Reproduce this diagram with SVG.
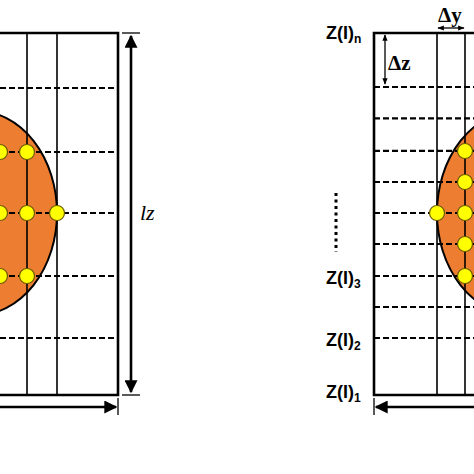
<svg xmlns="http://www.w3.org/2000/svg" width="474" height="474" viewBox="0 0 474 474">
<defs>
<style>
.ell{fill:#ED7D31;stroke:#000;stroke-width:2}
.frame{fill:none;stroke:#000;stroke-width:2.6}
.vl{stroke:#000;stroke-width:1.6}
.dl{stroke:#000;stroke-width:2.2;stroke-dasharray:6 3}
.dot{fill:#FFFF00;stroke:#6B5A00;stroke-width:1.2}
.thick{stroke:#000;stroke-width:2.6;fill:none}
.thin{stroke:#000;stroke-width:1.3;fill:none}
.lab{font-family:"Liberation Sans",Arial,sans-serif;font-weight:bold;font-size:18px;fill:#000}
.sub{font-size:12px}
.gr{font-family:"Liberation Serif","Times New Roman",serif;font-size:21px;font-weight:bold;fill:#000}
.lz{font-family:"Liberation Serif","Times New Roman",serif;font-size:22px;font-style:italic;fill:#000}
</style>
<marker id="ah" viewBox="0 0 10 10" refX="9" refY="5" markerWidth="5" markerHeight="5" orient="auto-start-reverse" markerUnits="strokeWidth">
<path d="M0,0 L10,5 L0,10 z" fill="#000"/>
</marker>
<marker id="sh" viewBox="0 0 10 10" refX="9" refY="5" markerWidth="5" markerHeight="5" orient="auto-start-reverse" markerUnits="strokeWidth">
<path d="M0,1 L10,5 L0,9 z" fill="#000"/>
</marker>
</defs>

<g id="left-panel">
<ellipse class="ell" cx="-23" cy="213" rx="80" ry="102"/>
<line class="vl" x1="27" y1="33" x2="27" y2="395"/>
<line class="vl" x1="57" y1="33" x2="57" y2="395"/>
<line class="dl" x1="0" y1="88" x2="118" y2="88"/>
<line class="dl" x1="0" y1="152" x2="118" y2="152"/>
<line class="dl" x1="0" y1="213" x2="118" y2="213"/>
<line class="dl" x1="0" y1="276" x2="118" y2="276"/>
<line class="dl" x1="0" y1="338" x2="118" y2="338"/>
<path class="frame" d="M-5,33 H118 V395 H-5"/>
<circle class="dot" cx="0" cy="152" r="7.5"/>
<circle class="dot" cx="27" cy="152" r="7.5"/>
<circle class="dot" cx="0" cy="213" r="7.5"/>
<circle class="dot" cx="27" cy="213" r="7.5"/>
<circle class="dot" cx="57" cy="213" r="7.5"/>
<circle class="dot" cx="0" cy="276" r="7.5"/>
<circle class="dot" cx="27" cy="276" r="7.5"/>
</g>

<g id="right-panel">
<ellipse class="ell" cx="517" cy="213" rx="80" ry="102"/>
<line class="vl" x1="437" y1="33" x2="437" y2="395"/>
<line class="vl" x1="465" y1="33" x2="465" y2="395"/>
<line class="dl" x1="374" y1="87" x2="474" y2="87"/>
<line class="dl" x1="374" y1="118.4" x2="474" y2="118.4"/>
<line class="dl" x1="374" y1="150.8" x2="474" y2="150.8"/>
<line class="dl" x1="374" y1="182" x2="474" y2="182"/>
<line class="dl" x1="374" y1="213" x2="474" y2="213"/>
<line class="dl" x1="374" y1="244" x2="474" y2="244"/>
<line class="dl" x1="374" y1="276" x2="474" y2="276"/>
<line class="dl" x1="374" y1="307" x2="474" y2="307"/>
<line class="dl" x1="374" y1="338" x2="474" y2="338"/>
<path class="frame" d="M480,33 H374 V395 H480"/>
<circle class="dot" cx="465" cy="151" r="7.5"/>
<circle class="dot" cx="465" cy="182" r="7.5"/>
<circle class="dot" cx="437" cy="213" r="7.5"/>
<circle class="dot" cx="465" cy="213" r="7.5"/>
<circle class="dot" cx="465" cy="244" r="7.5"/>
<circle class="dot" cx="465" cy="276" r="7.5"/>
</g>

<g id="connectors">
<line x1="122" y1="33" x2="140" y2="33" class="thin" stroke-width="2"/>
<line x1="122" y1="395" x2="140" y2="395" class="thin" stroke-width="2"/>
<line x1="131" y1="36" x2="131" y2="392" class="thick" marker-start="url(#ah)" marker-end="url(#ah)"/>
<line x1="-5" y1="407" x2="116" y2="407" class="thick" marker-end="url(#ah)"/>
<line x1="118" y1="398" x2="118" y2="415" class="thin" stroke-width="1.8"/>
<line x1="474" y1="407" x2="376" y2="407" class="thick" marker-end="url(#ah)"/>
<line x1="374" y1="398" x2="374" y2="415" class="thin" stroke-width="1.8"/>
<line x1="438" y1="28" x2="464" y2="28" class="thin" marker-start="url(#sh)" marker-end="url(#sh)"/>
<line x1="385" y1="35" x2="385" y2="84" class="thin" marker-start="url(#sh)" marker-end="url(#sh)"/>
<line x1="336" y1="193" x2="336" y2="252" stroke="#000" stroke-width="3" stroke-dasharray="3 3.5"/>
</g>

<g id="labels">
<text class="lz" x="140" y="220">lz</text>
<text class="gr" x="388" y="70">Δz</text>
<text class="gr" x="438" y="22">Δy</text>
<text class="lab" x="326" y="39">Z(I)<tspan class="sub" dy="4">n</tspan></text>
<text class="lab" x="326" y="284">Z(I)<tspan class="sub" dy="4">3</tspan></text>
<text class="lab" x="326" y="346">Z(I)<tspan class="sub" dy="4">2</tspan></text>
<text class="lab" x="326" y="398">Z(I)<tspan class="sub" dy="4">1</tspan></text>
</g>
</svg>
